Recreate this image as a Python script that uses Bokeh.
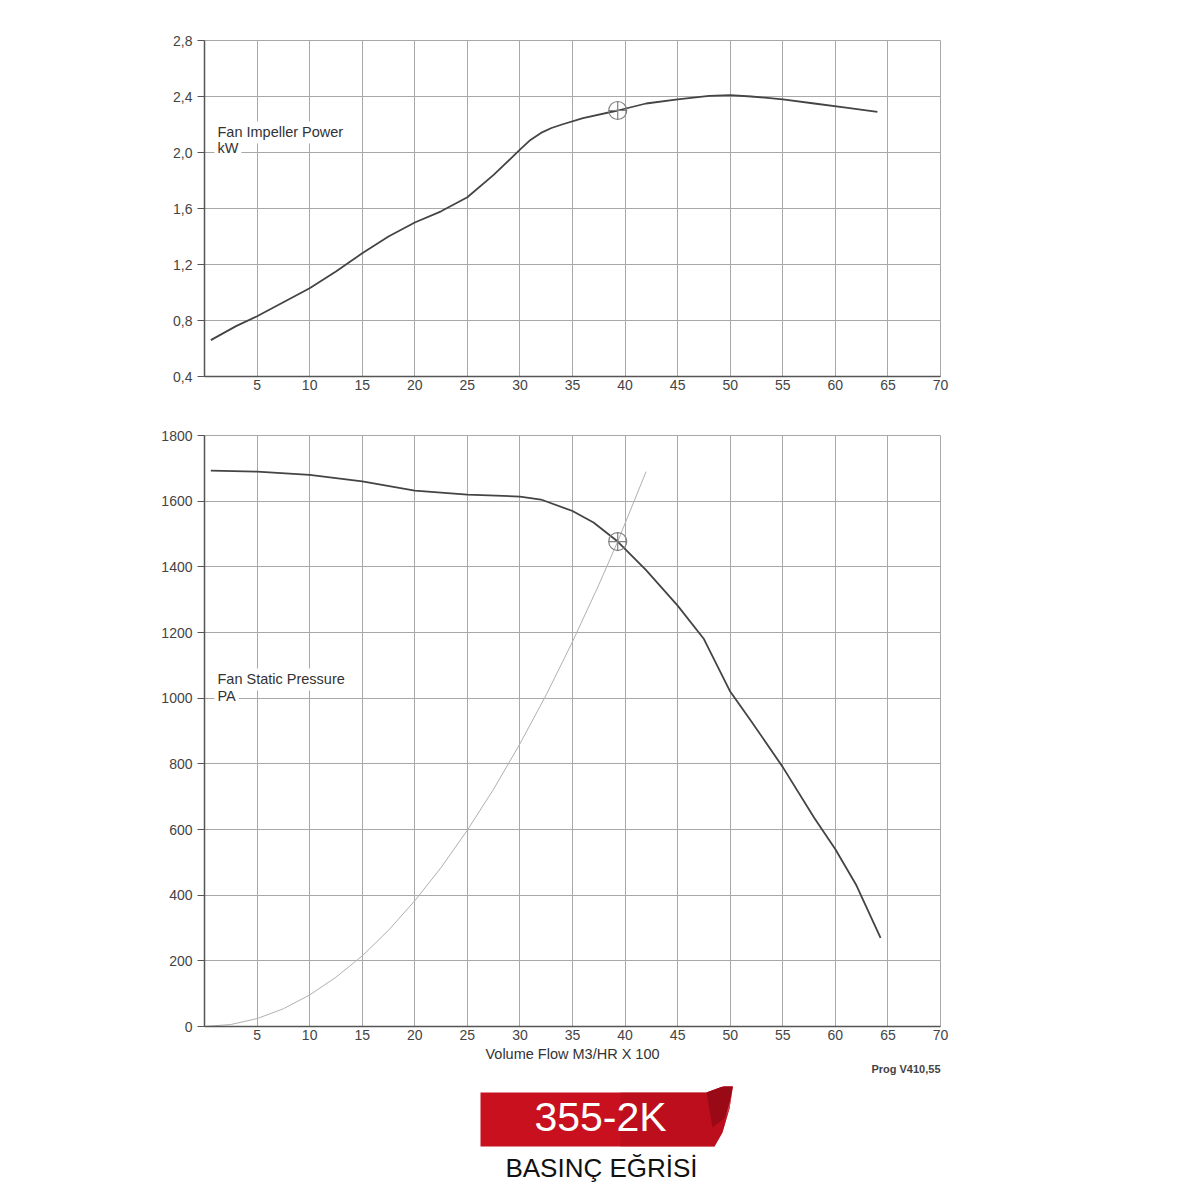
from bokeh.plotting import figure
from bokeh.layouts import column
from bokeh.models import Range1d, FixedTicker, CustomJSTickFormatter, Label, Title
from bokeh.embed import file_html
from bokeh.resources import INLINE
from bokeh.core.properties import value

FONT = "Liberation Sans"

# ---------------- data ----------------
x_ticks = [5, 10, 15, 20, 25, 30, 35, 40, 45, 50, 55, 60, 65, 70]
power_ticks = [0.4, 0.8, 1.2, 1.6, 2.0, 2.4, 2.8]
pressure_ticks = [0, 200, 400, 600, 800, 1000, 1200, 1400, 1600, 1800]

power_flow = [0.6, 3, 5, 7.5, 10, 12.5, 15, 17.5, 20, 22.5, 25, 27.5, 30, 31, 32, 33,
              34, 36, 39.3, 42, 45, 48, 50, 52, 55, 58, 61, 64]
power_kw = [0.66, 0.76, 0.83, 0.93, 1.03, 1.15, 1.28, 1.40, 1.50, 1.58, 1.68, 1.84,
            2.02, 2.09, 2.14, 2.175, 2.20, 2.245, 2.30, 2.35, 2.38, 2.405, 2.41, 2.40,
            2.38, 2.35, 2.32, 2.29]

pressure_flow = [0.6, 5, 10, 15, 20, 25, 30, 32, 35, 37, 39.3, 42, 45, 47.5, 50, 52,
                 55, 58, 60, 62, 64.3]
pressure_pa = [1693, 1690, 1680, 1660, 1632, 1620, 1614, 1605, 1570, 1535, 1477, 1390,
               1282, 1180, 1020, 930, 790, 635, 540, 430, 270]

system_flow = [0, 2.5, 5, 7.5, 10, 12.5, 15, 17.5, 20, 22.5, 25, 27.5, 30, 32.5, 35,
               37.5, 39.3, 42]
system_pa = [0, 6, 24, 54, 96, 150, 215, 293, 383, 484, 598, 723, 861, 1010, 1172,
             1345, 1477, 1690]

op_flow = [39.3]
op_power = [2.30]
op_pressure = [1477]

GRID = "#a8a8a8"
AXIS = "#555555"
CURVE = "#444444"
TXT = "#333333"

LEFT, RIGHT = 204, 60


def base_fig(height, ymin, ymax, yticks, top, bottom, fmt):
    p = figure(width=1000, height=height, x_range=Range1d(0, 70),
               y_range=Range1d(ymin, ymax), toolbar_location=None,
               output_backend="svg", min_border_left=LEFT, min_border_right=RIGHT,
               min_border_top=top, min_border_bottom=bottom)
    p.background_fill_color = "white"
    p.border_fill_color = "white"
    p.outline_line_color = GRID
    p.outline_line_width = 1
    p.xaxis.ticker = FixedTicker(ticks=x_ticks)
    p.yaxis.ticker = FixedTicker(ticks=yticks)
    p.xgrid.grid_line_color = GRID
    p.ygrid.grid_line_color = GRID
    p.xgrid.grid_line_width = 1
    p.ygrid.grid_line_width = 1
    for ax in (p.xaxis[0], p.yaxis[0]):
        ax.axis_line_color = AXIS
        ax.axis_line_width = 1.5
        ax.minor_tick_line_color = None
        ax.major_label_text_font = FONT
        ax.major_label_text_font_size = "14px"
        ax.major_label_text_color = "#444444"
    p.xaxis.major_tick_out = 0
    p.xaxis.major_tick_in = 0
    p.xaxis.major_label_standoff = 3
    p.yaxis.major_tick_out = 7
    p.yaxis.major_tick_in = 0
    p.yaxis.major_tick_line_color = AXIS
    p.yaxis.major_label_standoff = 5
    p.yaxis.formatter = CustomJSTickFormatter(code=fmt)
    return p


# ---------------- top: power ----------------
p1 = base_fig(403, 0.4, 2.8, power_ticks, 40, 27,
              "return tick.toFixed(1).replace('.', ',');")
p1.line(power_flow, power_kw, line_color=CURVE, line_width=1.8)
p1.scatter(op_flow, op_power, marker="circle_cross", size=18, fill_color=None,
           line_color="#808080", line_width=1.2)
for txt, yv in (("Fan Impeller Power", 2.143), ("kW", 2.03)):
    p1.add_layout(Label(x=0.95, y=yv, text=txt, text_font=FONT, text_font_size="14.5px",
                        text_color=TXT, text_baseline="middle",
                        background_fill_color="white", padding=3))

# ---------------- bottom: pressure ----------------
p2 = base_fig(683, 0, 1800, pressure_ticks, 32, 60,
              "return tick.toFixed(0);")
p2.line(system_flow, system_pa, line_color="#b0b0b0", line_width=1)
p2.line(pressure_flow, pressure_pa, line_color=CURVE, line_width=1.8)
p2.scatter(op_flow, op_pressure, marker="circle_cross", size=18, fill_color=None,
           line_color="#808080", line_width=1.2)
for txt, yv in (("Fan Static Pressure", 1057), ("PA", 1008)):
    p2.add_layout(Label(x=0.95, y=yv, text=txt, text_font=FONT, text_font_size="14.5px",
                        text_color=TXT, text_baseline="middle",
                        background_fill_color="white", padding=3))
p2.xaxis.axis_label = "Volume Flow M3/HR X 100"
p2.xaxis.axis_label_text_font = FONT
p2.xaxis.axis_label_text_font_size = "14.5px"
p2.xaxis.axis_label_text_font_style = "normal"
p2.xaxis.axis_label_text_color = TXT
p2.xaxis.axis_label_standoff = 3
p2.add_layout(Title(text="Prog V410,55", align="right", text_font=FONT,
                    text_font_size="11px", text_font_style="bold",
                    text_color="#444444", offset=0, standoff=-7), "below")

# ---------------- banner ----------------
p3 = figure(width=1000, height=110, x_range=Range1d(LEFT, 1000 - RIGHT),
            y_range=Range1d(1196, 1086), toolbar_location=None,
            output_backend="svg", min_border_left=LEFT, min_border_right=RIGHT,
            min_border_top=0, min_border_bottom=0)
p3.axis.visible = False
p3.grid.visible = False
p3.outline_line_color = None
p3.background_fill_color = "white"
p3.border_fill_color = "white"

band_x = [480, 706, 733, 729, 722, 714, 480]
band_y = [1092, 1092, 1082, 1108, 1132, 1146, 1146]
p3.patch(band_x, band_y, fill_color="#c8101f", line_color=None)
shade_x = [620, 706, 733, 729, 722, 714, 620]
shade_y = [1092, 1092, 1082, 1108, 1132, 1146, 1146]
p3.patch(shade_x, shade_y, fill_color="#b00c1a", line_color=None, fill_alpha=0.5)
curl_x = [706, 733, 726, 712]
curl_y = [1092, 1082, 1116, 1127]
p3.patch(curl_x, curl_y, fill_color="#9a0a16", line_color=None)
hl_x = [733, 729, 724, 731]
hl_y = [1082, 1108, 1120, 1095]
p3.patch(hl_x, hl_y, fill_color="#e05060", line_color=None, fill_alpha=0.7)

p3.text(x=[600], y=[1116], text=["355-2K"], text_font=value(FONT),
        text_font_size="41px", text_color="white", text_align="center",
        text_baseline="middle")
p3.text(x=[601], y=[1167], text=["BASINÇ EĞRİSİ"], text_font=value(FONT),
        text_font_size="26px", text_color="#111111", text_align="center",
        text_baseline="middle")

layout = column(p1, p2, p3)
open("out.html", "w").write(file_html(layout, INLINE))
